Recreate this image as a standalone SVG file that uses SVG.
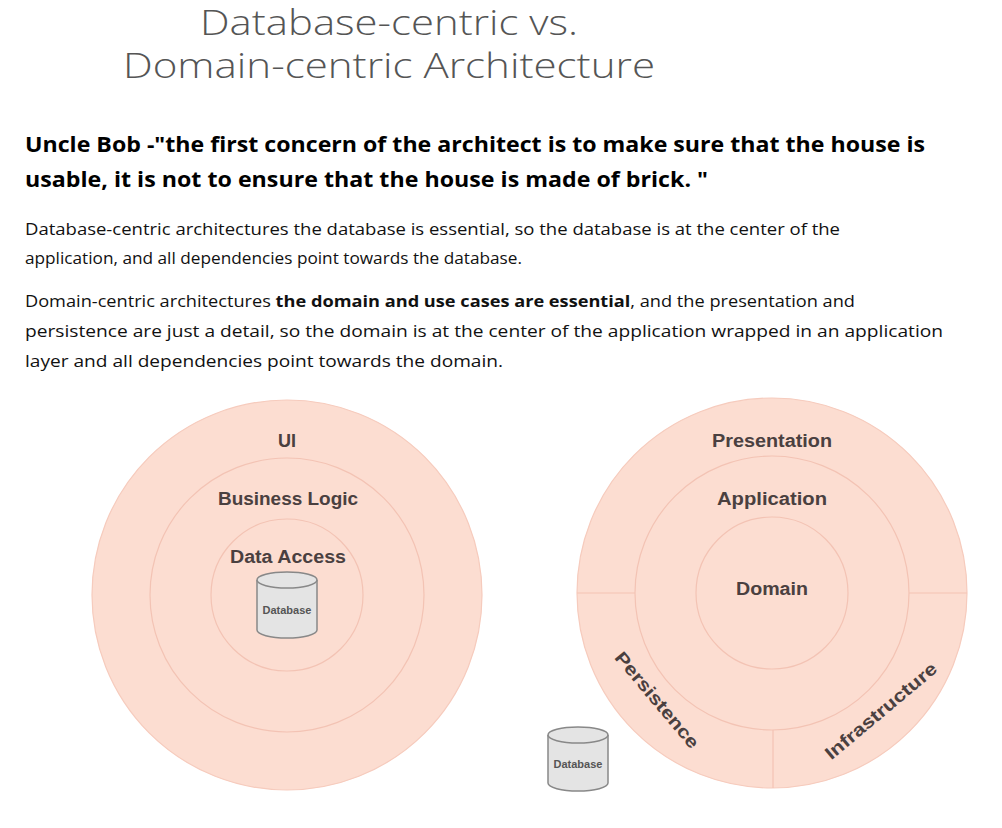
<svg xmlns="http://www.w3.org/2000/svg" width="1002" height="828" viewBox="0 0 1002 828">
<style>
.t{font-family:"Open Sans","Liberation Sans",sans-serif;font-weight:300;font-size:35px;fill:#555;}
.h{font-family:"Open Sans","Liberation Sans",sans-serif;font-weight:700;font-size:21px;fill:#000;}
.b{font-family:"Open Sans","Liberation Sans",sans-serif;font-size:16px;fill:#111;}
.l{font-family:"Liberation Sans",sans-serif;font-weight:700;font-size:18px;fill:#4a4040;text-anchor:middle;}
.o{fill:#fcddd1;stroke:#f6cbbd;stroke-width:1.2;}
.ln{stroke:#f3c3b4;stroke-width:1.2;fill:none;}
.db{fill:#e4e4e4;stroke:#888;stroke-width:1.5;}
.dbt{font-family:"Liberation Sans",sans-serif;font-weight:700;font-size:11px;fill:#555;text-anchor:middle;}
</style>
<rect width="1002" height="828" fill="#fff"/>
<text class="t" x="200" y="35" textLength="378" lengthAdjust="spacingAndGlyphs">Database-centric vs.</text>
<text class="t" x="123" y="78" textLength="532" lengthAdjust="spacingAndGlyphs">Domain-centric Architecture</text>
<text class="h" x="25" y="152" textLength="900" lengthAdjust="spacingAndGlyphs">Uncle Bob -"the first concern of the architect is to make sure that the house is</text>
<text class="h" x="25" y="187" textLength="683" lengthAdjust="spacingAndGlyphs">usable, it is not to ensure that the house is made of brick. "</text>
<text class="b" x="25" y="235" textLength="815" lengthAdjust="spacingAndGlyphs">Database-centric architectures the database is essential, so the database is at the center of the</text>
<text class="b" x="25" y="264" textLength="497" lengthAdjust="spacingAndGlyphs">application, and all dependencies point towards the database.</text>
<text class="b" x="25" y="307" textLength="830" lengthAdjust="spacingAndGlyphs">Domain-centric architectures <tspan font-weight="700">the domain and use cases are essential</tspan>, and the presentation and</text>
<text class="b" x="25" y="337" textLength="918" lengthAdjust="spacingAndGlyphs">persistence are just a detail, so the domain is at the center of the application wrapped in an application</text>
<text class="b" x="25" y="367" textLength="478" lengthAdjust="spacingAndGlyphs">layer and all dependencies point towards the domain.</text>

<g id="left">
<circle class="o" cx="287" cy="595" r="195"/>
<circle class="ln" cx="287" cy="595" r="137"/>
<circle class="ln" cx="287" cy="595" r="76"/>
<text class="l" x="287" y="447">UI</text>
<text class="l" x="288" y="505" textLength="140" lengthAdjust="spacingAndGlyphs">Business Logic</text>
<text class="l" x="288" y="563" textLength="116" lengthAdjust="spacingAndGlyphs">Data Access</text>
<g id="db1">
<path class="db" d="M257,580 v50 a30,8 0 0 0 60,0 v-50"/>
<ellipse class="db" cx="287" cy="580" rx="30" ry="8"/>
<text class="dbt" x="287" y="614">Database</text>
</g>
</g>

<g id="right">
<circle class="o" cx="772" cy="593" r="195"/>
<circle class="ln" cx="772" cy="593" r="137"/>
<circle class="ln" cx="772" cy="593" r="76"/>
<line class="ln" x1="577" y1="593" x2="635" y2="593"/>
<line class="ln" x1="909" y1="593" x2="967" y2="593"/>
<line class="ln" x1="773" y1="730" x2="773" y2="788"/>
<text class="l" x="772" y="447" textLength="120" lengthAdjust="spacingAndGlyphs">Presentation</text>
<text class="l" x="772" y="505" textLength="110" lengthAdjust="spacingAndGlyphs">Application</text>
<text class="l" x="772" y="595" textLength="72" lengthAdjust="spacingAndGlyphs">Domain</text>
<text class="l" transform="translate(657,700) rotate(50)" dy="6" textLength="120" lengthAdjust="spacingAndGlyphs">Persistence</text>
<text class="l" transform="translate(881,711) rotate(-40)" dy="6" textLength="140" lengthAdjust="spacingAndGlyphs">Infrastructure</text>
</g>
<g id="db2">
<path class="db" d="M548,735 v48 a30,8 0 0 0 60,0 v-48"/>
<ellipse class="db" cx="578" cy="735" rx="30" ry="8"/>
<text class="dbt" x="578" y="768">Database</text>
</g>
<g id="connectors"/>
</svg>
